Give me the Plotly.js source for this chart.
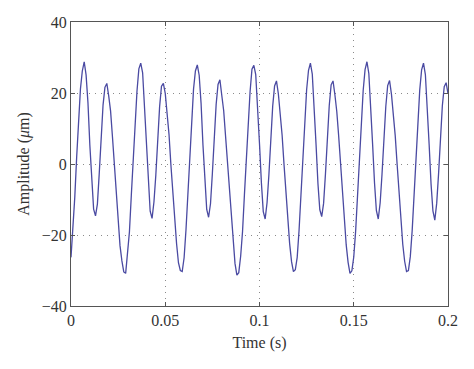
<!DOCTYPE html>
<html>
<head>
<meta charset="utf-8">
<script src="https://cdn.plot.ly/plotly-3.0.1.min.js"></script>
<style>html,body{margin:0;padding:0;background:#fff;}#chart{width:474px;height:369px;}</style>
</head>
<body>
<div id="chart"></div>
<script>
// Sampling step of the recorded signal (s)
var timeStep = 0.001;
// Amplitude (µm), one value per millisecond, 0 .. 0.2 s
var amplitude = [
  -26.3, -18.5, -9.4, 1.9, 12.0, 21.1, 26.2,
  28.8, 25.1, 17.2, 5.3, -5.6, -12.7, -14.6, -11.3, -2.5, 7.1, 16.6, 21.6, 22.7, 19.2, 14.9, 7.6, 0.4, -8.4, -15.7, -23.0, -27.3, -30.4, -30.8, -25.8, -19.1, -8.8, 1.4, 12.4, 20.5, 26.8,
  28.4, 25.7, 16.5, 5.9, -5.1, -13.3, -15.3, -10.7, -3.1, 7.7, 16.1, 21.9, 22.7, 19.9, 14.3, 8.3, -0.3, -7.8, -16.3, -22.4, -27.8, -30.0, -30.3, -26.4, -18.5, -9.4, 2.0, 11.8, 21.1, 26.2,
  27.9, 25.0, 17.1, 5.4, -5.7, -12.8, -15.0, -11.2, -2.6, 7.0, 16.8, 22.4, 23.7, 19.3, 15.0, 7.8, 0.5, -8.5, -15.8, -23.1, -28.0, -31.3, -30.6, -26.0, -19.0, -8.7, 1.5, 12.5, 20.4, 26.7,
  27.8, 25.2, 16.7, 5.7, -5.3, -13.4, -15.5, -10.9, -2.9, 7.6, 16.3, 22.0, 23.4, 19.8, 14.4, 8.1, -0.1, -7.9, -16.1, -22.5, -27.5, -30.3, -29.8, -26.3, -18.6, -9.2, 1.9, 11.9, 20.9, 26.4,
  28.4, 25.3, 17.0, 5.5, -5.5, -12.9, -14.8, -11.1, -2.7, 7.2, 16.5, 22.3, 23.4, 19.5, 14.8, 7.9, 0.2, -8.2, -15.9, -22.8, -27.7, -30.8, -30.1, -26.2, -18.9, -9.0, 1.6, 12.2, 20.7, 26.6,
  28.8, 25.5, 16.8, 5.6, -5.2, -13.1, -15.5, -11.0, -2.8, 7.5, 16.2, 22.1, 23.5, 19.7, 14.6, 8.0, 0.0, -8.0, -16.2, -22.6, -27.4, -30.3, -30.0, -26.1, -18.7, -9.1, 1.8, 12.0, 20.8, 26.5,
  28.4, 25.2, 16.9, 5.4, -5.6, -13.2, -15.8, -11.1, -2.7, 7.3, 16.4, 21.8, 22.9, 19.8
];
var xTickVals = [0, 0.05, 0.1, 0.15, 0.2];
var xTickText = ["0", "0.05", "0.1", "0.15", "0.2"];
var yTickVals = [-40, -20, 0, 20, 40];
var yTickText = ["\u221240", "\u221220", "0", "20", "40"];

var time = amplitude.map(function (v, i) { return +(i * timeStep).toFixed(4); });

var font = {family: "Liberation Serif, Times New Roman, serif", size: 16, color: "#333"};
var axisCommon = {
  showline: true, linecolor: "#555", linewidth: 1, mirror: "ticks",
  ticks: "inside", ticklen: 4, tickcolor: "#555", tickwidth: 1,
  showgrid: true, gridcolor: "#8a8a8a", gridwidth: 1, griddash: "1px,5px",
  zeroline: false, tickfont: font
};

var trace = {
  x: time, y: amplitude, type: "scatter", mode: "lines",
  line: {color: "#4a4aa2", width: 1.3}
};

var layout = {
  width: 474, height: 369,
  margin: {l: 71, r: 26, t: 22, b: 63},
  paper_bgcolor: "#fff", plot_bgcolor: "#fff",
  showlegend: false,
  font: font,
  xaxis: Object.assign({}, axisCommon, {
    range: [0, 0.2], tickmode: "array", tickvals: xTickVals, ticktext: xTickText,
    title: {text: "Time (s)", font: font, standoff: 8}
  }),
  yaxis: Object.assign({}, axisCommon, {
    range: [-40, 40], tickmode: "array", tickvals: yTickVals, ticktext: yTickText,
    title: {text: "Amplitude (<i>\u03bc</i>m)", font: font, standoff: 8}
  })
};

Plotly.newPlot("chart", [trace], layout, {displayModeBar: false, staticPlot: true});
</script>
</body>
</html>
